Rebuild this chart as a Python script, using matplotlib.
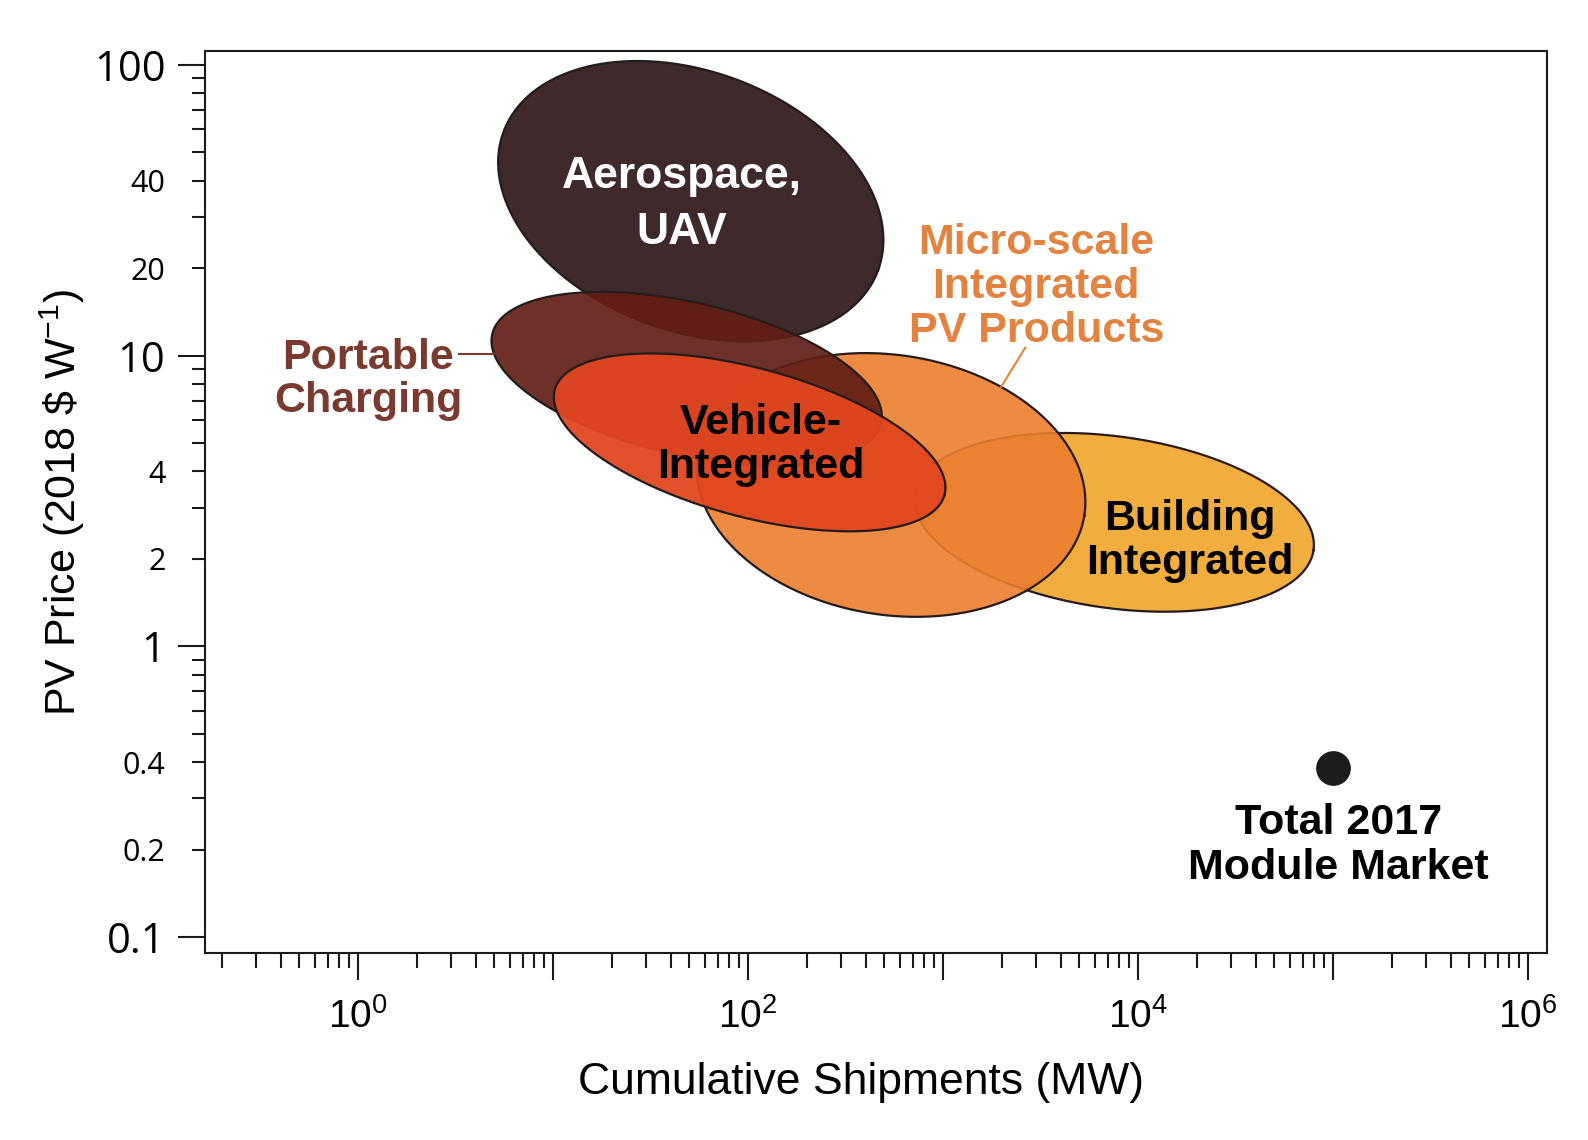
import numpy as np
import matplotlib
matplotlib.use('Agg')
import matplotlib.pyplot as plt

plt.rcParams['font.family'] = ['Liberation Sans', 'DejaVu Sans']
plt.rcParams['mathtext.fontset'] = 'custom'
plt.rcParams['mathtext.rm'] = 'Liberation Sans'
plt.rcParams['mathtext.it'] = 'Liberation Sans:italic'
plt.rcParams['mathtext.bf'] = 'Liberation Sans:bold'

# market segments: centre (MW, $/W), ellipse half-axes in decades, tilt
segments = ['Aerospace', 'Building', 'Micro', 'Portable', 'Vehicle']
center_mw = [50.8, 7540, 540, 48.4, 101.8]
center_price = [34.0, 2.67, 3.59, 8.33, 5.03]
half_major = [1.024, 1.032, 1.004, 1.023, 1.035]
half_minor = [0.666, 0.440, 0.666, 0.392, 0.381]
tilt_deg = [-20.3, -7.9, -9.0, -12.9, -15.1]

total_market_mw = [1.0e5]
total_market_price = [0.38]

xticks = [1, 10, 100, 1e3, 1e4, 1e5, 1e6]
xticklabels = ['$10^{0}$', '', '$10^{2}$', '', '$10^{4}$', '', '$10^{6}$']
yticks = [0.1, 1, 10, 100]
yticklabels = ['0.1', '1', '10', '100']
yminor = [0.2, 0.3, 0.4, 0.5, 0.6, 0.7, 0.8, 0.9,
          2, 3, 4, 5, 6, 7, 8, 9,
          20, 30, 40, 50, 60, 70, 80, 90]
yminorlabels = ['0.2', '', '0.4', '', '', '', '', '',
                '2', '', '4', '', '', '', '', '',
                '20', '', '40', '', '', '', '', '']

fills = {'Aerospace': '#3e2a2b', 'Building': '#f1ae3e', 'Micro': '#eb7e2e',
         'Portable': '#621f16', 'Vehicle': '#e14620'}
alphas = {'Aerospace': 1.0, 'Building': 1.0, 'Micro': 0.9,
          'Portable': 0.92, 'Vehicle': 0.95}

fig = plt.figure(figsize=(15.88, 11.40), dpi=100)
ax = fig.add_axes([0.1291, 0.1640, 0.8451, 0.7913])
ax.set_xscale('log')
ax.set_yscale('log')
xlim = (0.164, 1.25e6)
ylim = (0.0881, 111.7)
ax.set_xlim(*xlim)
ax.set_ylim(*ylim)

# pixels per decade in y relative to x, so the ellipses keep their shape
ax_w = 0.8451 * 15.88
ax_h = 0.7913 * 11.40
ky = (ax_h / np.log10(ylim[1] / ylim[0])) / (ax_w / np.log10(xlim[1] / xlim[0]))

t = np.linspace(0, 2 * np.pi, 400)
for i, name in enumerate(segments):
    phi = np.radians(tilt_deg[i])
    u = half_major[i] * np.cos(t)
    v = half_minor[i] * np.sin(t)
    lx = np.log10(center_mw[i]) + u * np.cos(phi) - v * np.sin(phi)
    ly = np.log10(center_price[i]) + (u * np.sin(phi) + v * np.cos(phi)) / ky
    ax.fill(10 ** lx, 10 ** ly, facecolor=fills[name], alpha=alphas[name],
            edgecolor='none', zorder=2 + i)
    ax.plot(10 ** lx, 10 ** ly, color='#261b1b', lw=1.6, zorder=2 + i)

ax.plot(total_market_mw, total_market_price, 'o', color='#1c1c1c',
        markersize=24, zorder=10)

bold = dict(fontweight='bold', fontsize=31, ha='center', va='center', zorder=12)
ax.text(45.6, 33.1, 'Aerospace,\nUAV', color='white', linespacing=1.44,
        **dict(bold, fontsize=32))
ax.text(1.125, 8.28, 'Portable\nCharging', color='#7b3a30', linespacing=1.125, **bold)
ax.plot([3.29, 4.97], [10.16, 10.16], color='#7b3a30', lw=1.5, zorder=12)
ax.text(115.9, 4.93, 'Vehicle-\nIntegrated', color='black', linespacing=1.125, **bold)
ax.text(3003, 17.25, 'Micro-scale\nIntegrated\nPV Products', color='#e4823f',
        linespacing=1.125, **bold)
ax.plot([2638, 1987], [10.66, 7.82], color='#e4823f', lw=1.5, zorder=12)
ax.text(18460, 2.30, 'Building\nIntegrated', color='black', linespacing=1.125, **bold)
ax.text(1.06e5, 0.207, 'Total 2017\nModule Market', color='black',
        linespacing=1.156, **bold)

for s in ax.spines.values():
    s.set_linewidth(1.5)
    s.set_color('#1a1a1a')

ax.set_xticks(xticks)
ax.set_xticklabels(xticklabels)
ax.set_yticks(yticks)
ax.set_yticklabels(yticklabels, family='Open Sans')
ax.set_yticks(yminor, minor=True)
ax.set_yticklabels(yminorlabels, minor=True, family='Open Sans')

ax.tick_params(axis='both', which='both', direction='out', width=1.5,
               color='#1a1a1a')
ax.tick_params(axis='x', which='major', length=19.5, labelsize=28, pad=13)
ax.tick_params(axis='x', which='minor', length=10.5)
ax.tick_params(axis='y', which='major', length=19.5, labelsize=30, pad=9)
ax.tick_params(axis='y', which='minor', length=9.5, labelsize=22, pad=19)

ax.set_xlabel('Cumulative Shipments (MW)', fontsize=32)
ax.xaxis.set_label_coords(0.489, -0.144)
ax.xaxis.label.set_va('center')
ax.set_ylabel('PV Price (2018 \\$ W$^{-1}$)', fontsize=31)
ax.yaxis.set_label_coords(-0.106, 0.5)
ax.yaxis.label.set_va('center')

fig.savefig('out.png', dpi=100)
